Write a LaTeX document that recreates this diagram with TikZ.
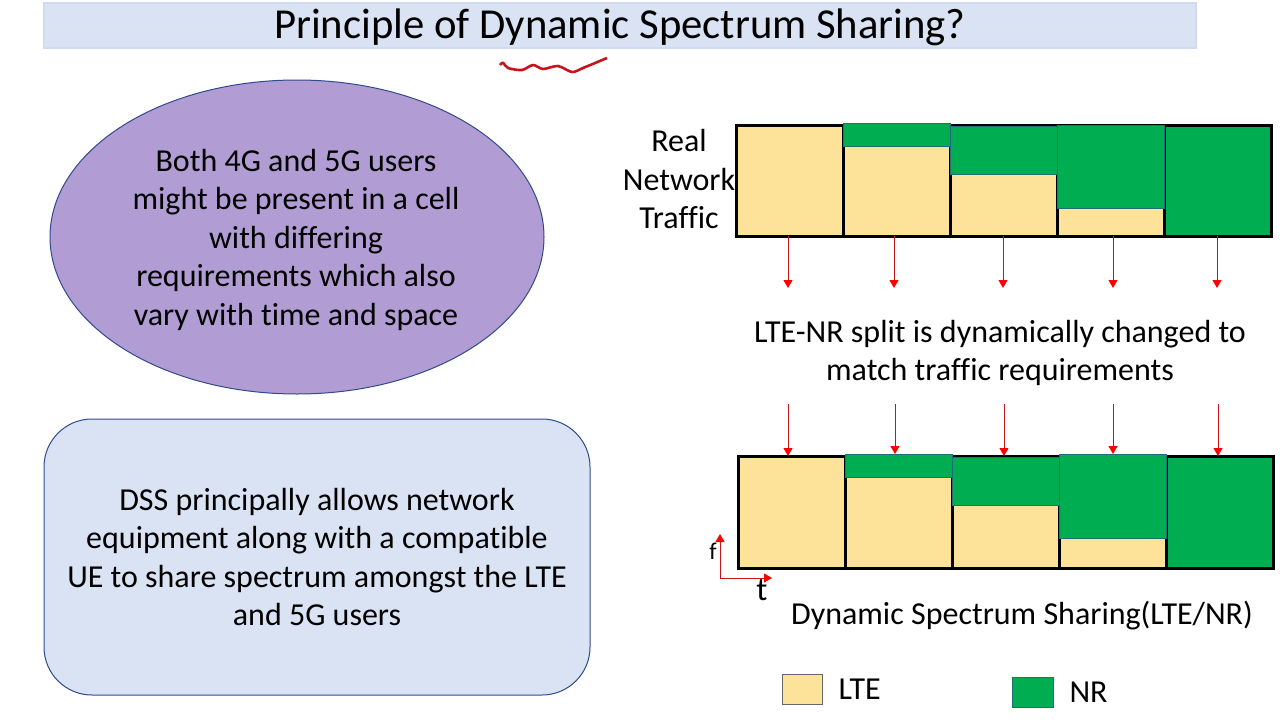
\documentclass[tikz,border=0pt]{standalone}
\usepackage{fontspec}
\setmainfont{Carlito}[Ligatures=NoCommon]
\usetikzlibrary{positioning, arrows.meta, shapes.geometric}
\definecolor{bandblue}{HTML}{DAE3F3}
\definecolor{bandedge}{HTML}{CFDBF0}
\definecolor{ovalpurple}{HTML}{B19CD3}
\definecolor{edgeblue}{HTML}{2F4B8F}
\definecolor{ltecol}{HTML}{FDE299}
\definecolor{nrcol}{HTML}{00AD50}
\definecolor{nredge}{HTML}{1F6F78}
\definecolor{flowred}{HTML}{C5141C}
\tikzset{
every node/.style={inner sep=0pt, outer sep=0pt}, % boxes sit exactly on their sizes
body/.style={font=\fontsize{32}{38.5}\selectfont, align=center},
ltecell/.style={draw=black, line width=3pt, fill=ltecol, minimum width=107pt},
nrcell/.style={draw=nredge, line width=1pt, fill=nrcol, minimum width=107pt},
flow/.style={draw=flowred, line width=1pt, -{Triangle[length=8pt, width=9pt, color=red]}},
}

\begin{document}
\begin{tikzpicture}[x=1pt, y=-1pt, node distance=0pt]
    \useasboundingbox (0,0) rectangle (1280,720);

    % title and note shapes
    \node[fill=bandblue, draw=bandedge, line width=1.5pt, minimum width=1152pt, minimum height=45pt] (band) at (620,25.5) {};
    \node[font=\fontsize{42.7}{50}\selectfont] (title) at (620,27) {Principle of Dynamic Spectrum Sharing?};
    \draw[flowred, line width=2.6pt, line join=round] plot[smooth, tension=0.5] coordinates {(500,65) (503,62.7) (508,68) (522,70) (533,65) (543,69) (558,66) (572,72) (583,68) (607,58)};

    \node[ellipse, fill=ovalpurple, draw=edgeblue, line width=1pt, minimum width=494pt, minimum height=314pt] (oval) at (297,237) {};
    \node[body] (ovaltext) at (296,239.5)
      {Both 4G and 5G users\\might be present in a cell\\with differing\\requirements which also\\vary with time and space};
    \node[rectangle, body, rounded corners=48pt, fill=bandblue, draw=edgeblue, line width=1pt, minimum width=546pt, minimum height=276pt] (dss) at (317,557)
      {DSS principally allows network\\equipment along with a compatible\\UE to share spectrum amongst the LTE\\and 5G users};

    % real traffic row
    \node[ltecell, minimum height=111pt] (rt1) at (789.5,180.5) {};
    \node[ltecell, minimum height=111pt, right=of rt1] (rt2) {};
    \node[ltecell, minimum height=111pt, right=of rt2] (rt3) {};
    \node[ltecell, minimum height=111pt, right=of rt3] (rt4) {};
    \node[ltecell, fill=nrcol, minimum height=111pt, right=of rt4] (rt5) {};
    \node[nrcell, minimum height=23pt, below=-2pt of rt2.north] (rn2) {};
    \node[nrcell, minimum height=48pt, below=1pt of rt3.north] (rn3) {};
    \node[nrcell, minimum height=83pt, below=0pt of rt4.north] (rn4) {};
    \node[body, align=center] (real) at (679,179.5) {Real\\Network\\Traffic};

    % shared spectrum row
    \node[ltecell, minimum height=112pt] (ds1) at (791.5,512) {};
    \node[ltecell, minimum height=112pt, right=of ds1] (ds2) {};
    \node[ltecell, minimum height=112pt, right=of ds2] (ds3) {};
    \node[ltecell, minimum height=112pt, right=of ds3] (ds4) {};
    \node[ltecell, fill=nrcol, minimum height=112pt, right=of ds4] (ds5) {};
    \node[nrcell, minimum height=23pt, below=-2pt of ds2.north] (dn2) {};
    \node[nrcell, minimum height=48pt, below=1pt of ds3.north] (dn3) {};
    \node[nrcell, minimum height=84pt, below=-2pt of ds4.north] (dn4) {};

    \node[body] (split) at (1000,353) {LTE-NR split is dynamically changed to\\match traffic requirements};
    \node[body] (dsslabel) at (1022,616) {Dynamic Spectrum Sharing(LTE/NR)};

    % red arrows through the split text
    \coordinate (a1) at (788,288);
    \coordinate (a2) at (894,288);
    \coordinate (a3) at (1003,288);
    \coordinate (a4) at (1113,288);
    \coordinate (a5) at (1217,288);
    \coordinate (b1) at (788,404);
    \coordinate (b2) at (895,404);
    \coordinate (b3) at (1004,404);
    \coordinate (b4) at (1113,404);
    \coordinate (b5) at (1218,404);
    \draw[flow] (rt1.south -| a1) -- (a1);
    \draw[flow] (rt2.south -| a2) -- (a2);
    \draw[flow] (rt3.south -| a3) -- (a3);
    \draw[flow] (rt4.south -| a4) -- (a4);
    \draw[flow] (rt5.south -| a5) -- (a5);
    \draw[flow] (b1) -- (ds1.north -| b1);
    \draw[flow] (b2) -- (dn2.north -| b2);
    \draw[flow] (b3) -- (ds3.north -| b3);
    \draw[flow] (b4) -- (dn4.north -| b4);
    \draw[flow] (b5) -- (ds5.north -| b5);

    % time and frequency axes
    \coordinate (origin) at (720,578);
    \coordinate (fend) at (720,534);
    \coordinate (tend) at (772,578);
    \draw[flow] (origin) -- (fend);
    \draw[flow] (origin) -- (tend);
    \node[font=\fontsize{24}{28}\selectfont] (flabel) at (713,551) {f};
    \node[font=\fontsize{33}{38}\selectfont] (tlabel) at (762,590) {t};

    % legend
    \node[draw=gray!80!black, line width=1pt, fill=ltecol, minimum width=40pt, minimum height=30pt] (keylte) at (802.5,689) {};
    \node[body, right=16pt of keylte] (ltetext) {LTE};
    \node[draw=nredge, line width=1pt, fill=nrcol, minimum width=41pt, minimum height=30pt] (keynr) at (1033,692) {};
    \node[body, right=16pt of keynr] (nrtext) {NR};
\end{tikzpicture}
\end{document}
